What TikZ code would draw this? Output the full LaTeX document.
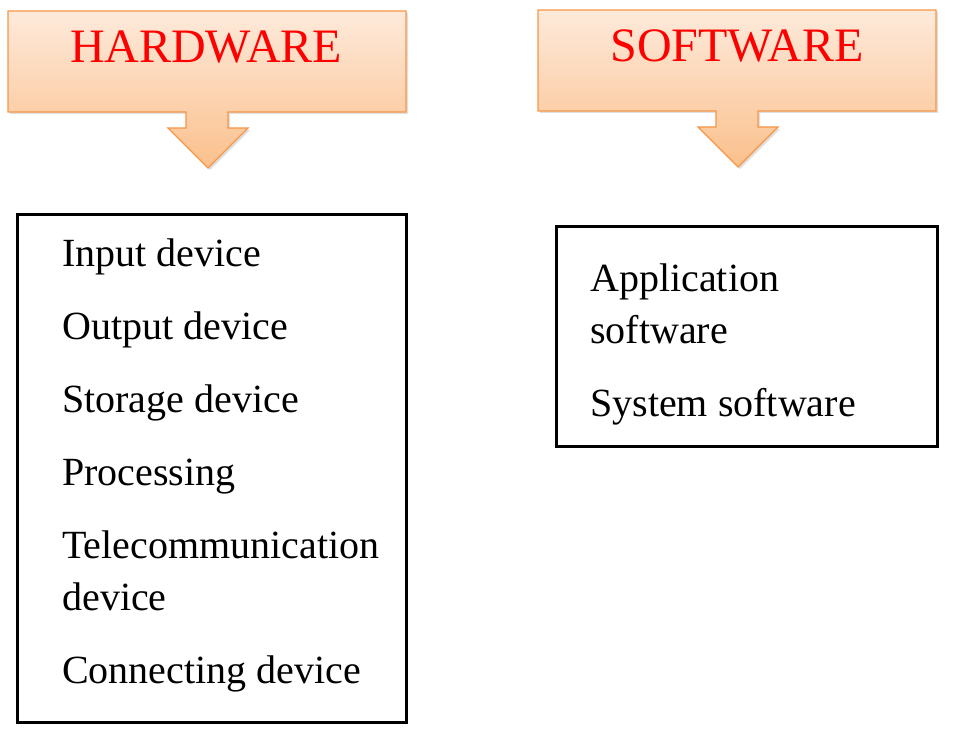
\documentclass[tikz,border=0pt]{standalone}
\usepackage{fontspec}
\setmainfont{Liberation Serif}
\usetikzlibrary{shadows}
\definecolor{calloutline}{HTML}{F79646}
\definecolor{callouttop}{HTML}{FDEADB}
\definecolor{calloutbottom}{HTML}{FBC08C}
\tikzset{
	callout/.style={draw=calloutline, line width=1pt, top color=callouttop, bottom color=calloutbottom,
		drop shadow={opacity=0.25, shadow xshift=1.5pt, shadow yshift=-1.5pt}},
	heading/.style={anchor=base, text=red, font=\fontsize{36}{40}\selectfont, inner sep=0pt},
	listbox/.style={draw=black, line width=2.25pt},
	item/.style={anchor=base west, font=\fontsize{30}{34}\selectfont, inner sep=0pt}
}
% down arrow callout: left, top, right, bottom of the box
\def\callout(#1,#2,#3,#4){\path[callout] (#1,#2) -- (#3,#2) -- (#3,#4) -- ({(#1+#3)/2+21},#4) -- ({(#1+#3)/2+21},#4+16)
	-- ({(#1+#3)/2+41},#4+16) -- ({(#1+#3)/2+1},#4+56) -- ({(#1+#3)/2-39},#4+16) -- ({(#1+#3)/2-21},#4+16)
	-- ({(#1+#3)/2-21},#4) -- (#1,#4) -- cycle;}

\begin{document}
\begin{tikzpicture}[x=0.75pt, y=-0.75pt]
	%%%%% START %%%%%
	\useasboundingbox (0, 0) rectangle (961, 742);
	
	\callout(8,11,406,112)
	\node[heading] (hardware) at (206, 63) {HARDWARE};
	
	\callout(538,10,936,111)
	\node[heading] (software) at (737, 62) {SOFTWARE};
	
	\draw[listbox] (17, 214) rectangle (406, 722);
	\node[item] (input) at (62, 266) {Input device};
	\node[item] (output) at (62, 339) {Output device};
	\node[item] (storage) at (62, 412) {Storage device};
	\node[item] (processing) at (62, 485) {Processing};
	\node[item] (telecom) at (62, 558) {Telecommunication};
	\node[item] (telecomb) at (62, 610) {device};
	\node[item] (connecting) at (62, 683) {Connecting device};
	
	\draw[listbox] (556, 226) rectangle (937, 446);
	\node[item] (application) at (590, 291) {Application};
	\node[item] (applicationb) at (590, 343) {software};
	\node[item] (system) at (590, 416) {System software};
	%%%%% END %%%%%
\end{tikzpicture}
\end{document}
